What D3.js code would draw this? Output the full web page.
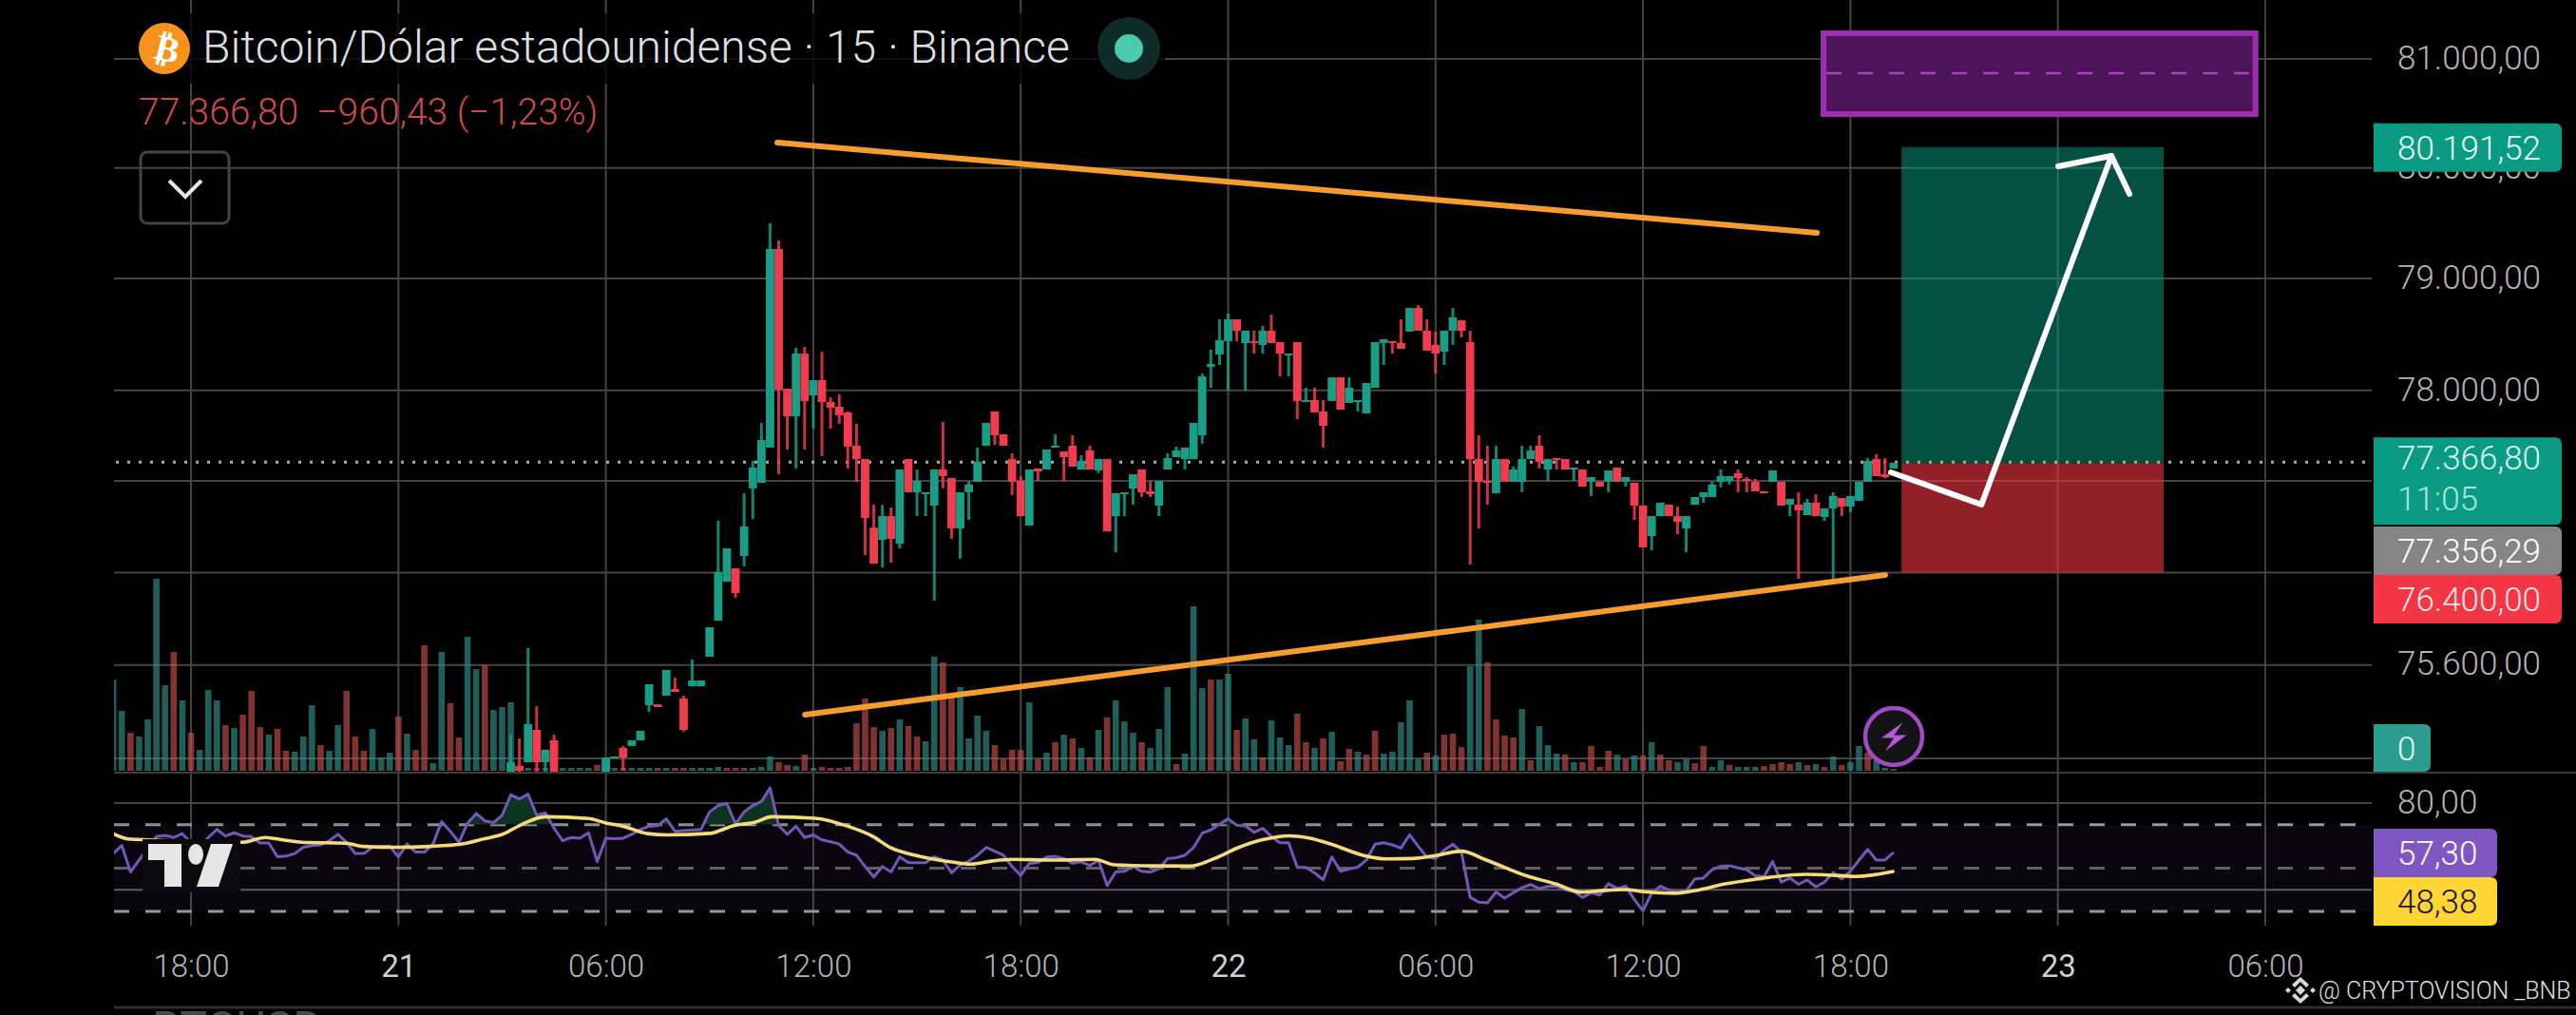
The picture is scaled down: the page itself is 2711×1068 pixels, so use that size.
<!DOCTYPE html>
<html>
<head>
<meta charset="utf-8">
<title>BTC/USD 15</title>
<script src="https://cdn.jsdelivr.net/npm/d3@7"></script>
<style>
html, body { margin: 0; padding: 0; background: #000; overflow: hidden; }
svg { display: block; }
text { font-family: Roboto, "Liberation Sans", sans-serif; }
</style>
</head>
<body>
<div id="canvas"></div>
<script>
// candles: 15 minute bars, first one at 03:15 on the 21st, hour 0 = 00:00 on the 20th
var candleStartHour = 27.25;
var barHours = 0.25;

var opens = [
  74687,74736,74768,75043,74768,74954,null,null,null,null,null,
  74687,74800,74889,74906,74954,75254,75262,75336,75393,75311,
  75417,75417,75671,75982,76320,76436,76544,77134,77184,77494,
  79266,78015,77771,78328,77956,78091,77897,77855,77805,77511,
  77393,76792,76685,76892,76651,77393,77101,77084,76984,77301,
  77226,76784,77101,77193,77511,77813,77611,77393,77201,76809,
  77310,77301,77502,77460,77511,77301,77469,77293,77393,76892,
  77093,77134,77301,77109,76984,77301,77410,77393,77393,77603,
  78210,78320,78439,78634,78422,78439,78405,78532,78430,78320,
  78430,77897,77914,77813,77906,78116,77889,77897,77796,78024,
  78422,78439,78422,78524,78736,78532,78405,78345,78532,78626,
  78430,77393,77201,77093,77393,77193,77193,77393,77511,77301,
  77402,77393,77301,77301,77193,77193,77193,77318,77193,77184,
  76984,76718,76892,76992,76892,76784,76992,77059,77059,77193,
  77201,77268,77218,77193,77109,77193,77193,76992,76992,76901,
  77009,76884,76959,77051,76976,77026,77193,77393,77259,77310
];
var highs = [
  75003,74970,75745,75246,74873,75003,null,null,null,null,null,
  74808,74816,74906,74954,75035,75434,75262,75556,75491,75336,
  75646,75466,75925,76851,76610,76436,77093,77377,77712,79498,
  79343,78015,78379,78388,78091,78345,77939,77965,77813,77704,
  77393,76992,76992,76967,77301,77393,77301,77101,77301,77721,
  77226,77101,77193,77494,77712,77813,77611,77444,77243,77301,
  77310,77477,77611,77460,77603,77427,77511,77393,77393,77093,
  77101,77259,77301,77201,77201,77444,77502,77494,77712,78150,
  78362,78634,78685,78634,78532,78532,78575,78677,78430,78328,
  78430,78024,78024,77914,78116,78116,78116,77914,78066,78430,
  78456,78439,78634,78736,78762,78634,78524,78532,78736,78626,
  78532,77603,77511,77511,77393,77326,77511,77511,77603,77393,
  77402,77393,77318,77301,77234,77193,77293,77318,77234,77184,
  76984,76892,77009,76992,76976,76892,77059,77101,77193,77301,
  77243,77301,77234,77218,77109,77293,77193,77043,77101,77043,
  77084,76959,77101,77051,77068,77193,77402,77435,77402,77360
];
var lows = [
  74687,74687,74768,74687,74687,74687,null,null,null,null,null,
  74687,74800,74695,74906,74954,75197,75238,75336,75368,75027,
  75417,75417,75671,75982,76320,76180,76452,76867,77184,77494,
  77259,77477,77310,77477,77662,77419,77662,77704,77310,77193,
  76552,76477,76444,76485,76610,77101,76892,76892,76155,77134,
  76693,76519,76859,77193,77511,77519,77511,77076,76892,76809,
  77201,77301,77502,77201,77326,77301,77301,77268,76759,76577,
  76892,76992,77059,77059,76892,77301,77410,77301,77393,77528,
  78024,78227,77998,78439,77998,78328,78328,78422,78125,78125,
  77746,77897,77805,77494,77906,77830,77889,77813,77796,78024,
  78227,78328,78371,78524,78532,78354,78150,78227,78405,78473,
  76469,76784,76992,77093,77193,77193,77101,77393,77310,77201,
  77301,77301,77201,77151,77068,77151,77101,77193,77151,76859,
  76618,76593,76892,76892,76734,76577,76992,77009,77059,77143,
  77168,77101,77101,77109,77101,77193,76984,76892,76345,76901,
  76892,76851,76345,76892,76926,77026,77193,77243,77226,77310
];
var closes = [
  74768,74695,75092,74768,74873,74687,null,null,null,null,null,
  74808,74816,74808,74954,75035,75434,75238,75556,75368,75043,
  75466,75466,75925,76403,76610,76221,76801,77318,77561,79266,
  78007,77771,78328,77906,78091,77897,77847,77779,77502,77393,
  76876,76477,76892,76693,77301,77101,77201,77101,77301,77243,
  76784,77101,77168,77368,77712,77603,77511,77193,76892,77301,
  77285,77477,77511,77410,77326,77377,77301,77393,76759,77093,
  77101,77259,77101,77084,77201,77402,77469,77494,77712,78125,
  78235,78447,78634,78532,78532,78422,78532,78422,78328,78328,
  77906,77914,77805,77687,78116,77830,78024,77914,78066,78430,
  78456,78422,78371,78736,78532,78354,78328,78532,78651,78532,
  77393,77193,77184,77393,77193,77301,77393,77469,77368,77393,
  77393,77301,77318,77151,77234,77151,77293,77193,77234,76984,
  76618,76892,77009,76892,76842,76892,77059,77101,77168,77243,
  77243,77226,77201,77109,77101,77293,76984,77043,76942,77009,
  76892,76959,77068,76976,77068,77193,77377,77243,77234,77360
];

// volume and RSI share one bar clock, starting further left than the visible candles
var seriesStartHour = 15.75;

var volumes = [
  96,63,40,36,54,202,90,125,74,40,22,85,74,48,45,59,84,46,38,44,21,20,36,69,27,21,48,84,36,21,44,14,19,57,39,22,132,8,125,71,35,141,107,111,64,67,72,
  3,3,3,3,3,3,3,3,3,6,3,3,3,3,3,3,3,3,3,3,3,3,3,4,3,3,3,3,4,15,9,6,5,17,3,4,3,3,4,50,
  76,46,42,45,54,47,36,31,120,114,81,88,34,58,42,27,12,22,22,72,12,19,30,38,34,24,14,43,56,74,52,40,30,24,44,88,7,18,173,87,96,96,102,43,55,33,14,53,35,27,60,30,24,34,41,10,23,20,17,42,18,20,51,74,12,19,16,38,39,25,110,159,114,54,37,35,65,11,47,27,18,17,9,9,26,4,21,
  17,12,16,16,30,17,11,9,12,8,26,4,11,6,4,4,4,5,7,9,7,9,6,7,4,15,6,9,26,19,11,3,2
];
var volumeDirs = (
  "ggrggggrgrgggrgrrrgrrgggrggrrrgggrgrrggrrggrggg" +
  "rgrgrggggrggrgggrgrrggggrrrgggrrgrgrrrrr" +
  "rrgrgrrggrrggggrrrrgrgrgrgrgrgggrgggrgggrggrggrgggrrgrgrrgrrgggggrgrrrggrrrrgrgggrgrrrrgrg" +
  "rgrrggrrggrgggrrrrgrgrgrggrgggrrg"
).split("");

var rsiValues = [
  56.7,60.4,48.2,53.7,58.9,64.5,65.1,64.1,65.9,61.6,60.4,64.1,67.8,64.8,66.3,64.8,64.5,61.6,61.6,55.2,
  55.5,56.7,59.6,60.4,60.7,62.6,65.6,61.9,56.7,56.7,59.6,59.9,60.1,55.2,61.1,57.4,57.4,61.1,71.5,67.0,
  61.9,70.7,75.2,71.8,71.0,74.4,83.8,81.9,84.1,74.4,75.5,68.5,62.6,64.1,63.8,66.3,53.0,63.8,63.6,63.8,
  65.6,67.8,69.3,69.6,72.7,67.0,67.3,67.5,67.8,75.9,78.9,79.9,70.4,75.9,78.9,80.7,87.0,69.6,65.6,69.3,
  64.1,65.3,63.0,62.1,61.1,57.4,55.9,50.7,45.9,50.7,48.2,55.2,52.5,52.5,52.5,55.2,53.7,47.8,51.5,53.2,
  55.9,59.5,57.8,55.9,50.7,46.6,52.2,52.6,55.1,55.4,54.4,52.2,52.9,51.2,53.7,41.9,48.2,48.5,50.7,48.5,
  48.1,49.7,54.4,54.8,55.9,59.5,66.1,67.6,70.2,72.7,69.8,69.5,66.5,68.3,64.6,61.7,61.7,50.3,50.3,47.8,
  44.6,55.1,48.5,49.6,50.4,53.7,61.0,61.7,60.7,59.2,65.4,60.0,55.1,54.4,58.3,61.0,57.3,36.5,34.3,33.9,
  39.0,36.1,38.7,40.9,42.4,40.5,41.5,41.7,40.0,39.3,36.4,38.6,37.6,42.8,40.6,41.7,35.5,30.3,38.4,41.7,
  39.8,38.8,39.4,45.0,45.4,49.3,50.8,51.1,50.1,49.3,46.4,46.0,53.0,43.5,45.4,42.5,44.5,41.3,43.5,47.9,
  45.0,48.6,53.7,58.6,53.7,53.7,57.3
];

var maHours = [
  15.74,16.24,19.48,20.15,20.7,21.2,22.47,23,23.9,24.9,25.8,26.5,27,27.55,28.25,29.5,30,30.5,31.2,31.75,
  33,33.7,34.3,34.8,36.05,37,37.7,38.25,38.95,39.96,40.56,41.15,41.75,42.93,44.14,44.72,45.93,46.9,47.6,48.3,
  49.03,49.75,50.33,51.04,51.9,52.6,53.32,54.04,54.75,55.47,56.65,57.47,58.2,58.74,59.48,60.03,60.93,61.48,62.42,63.33,
  63.8,64.7,65.6,66.16,67.23
];
var maValues = [
  65.9,63.3,61.9,64.1,62.9,61.9,61.5,60.0,59.6,60.0,61.0,63.6,65.5,70.0,73.7,72.9,70.8,69.3,65.9,65.3,
  66.0,69.6,71.1,73.7,73.0,69.3,64.8,59.3,55.9,52.9,51.8,53.2,54.0,53.7,54.0,51.5,51.0,50.9,54.4,59.5,
  63.2,64.9,63.9,60.7,55.9,54.2,54.4,55.9,57.8,53.7,46.3,42.7,38.9,39.5,40.1,39.1,38.4,39.5,42.8,45.0,
  46.0,47.1,46.6,46.1,48.38
];

var priceGridValues = [81000, 80000, 79000, 78000, 77200, 76400, 75600, 74800];
var priceTickValues = [81000, 80000, 79000, 78000, 75600];
var rsiGridValues = [80, 40];
var rsiBandValues = [70, 50, 30];

var timeTickHours = [18, 24, 30, 36, 42, 48, 54, 60, 66, 72, 78];
var timeTickLabels = ["18:00", "21", "06:00", "12:00", "18:00", "22", "06:00", "12:00", "18:00", "23", "06:00"];

// drawings on the chart
var lastPrice = 77366.80;
var averagePrice = 77356.29;
var targetPrice = 80191.52;
var stopPrice = 76400;
var upperTrendHours = [34.96, 65.03], upperTrendPrices = [80232, 79412];
var lowerTrendHours = [35.76, 67.01], lowerTrendPrices = [75174, 76379];
var positionHours = [67.48, 75.06];
var zoneHours = [65.14, 77.8], zonePrices = [81263, 80467], zoneMidPrice = 80868;
var arrowHours = [67.17, 69.79, 73.55], arrowPrices = [77276, 76993, 80111];
var arrowHeadHours = [72.01, 73.55, 74.07], arrowHeadPrices = [80016, 80111, 79765];

var canvasWidth = 2711, canvasHeight = 1068;
var leftEdge = 120, paneRight = 2496, scaleTextX = 2523;
var greenColor = "#189d87", redColor = "#f03c4e";
var gridColor = "#444444", textColor = "#b4b4b4";

var x = d3.scaleLinear().domain([18, 78]).range([201, 2384]);
var yPrice = d3.scaleLog().domain([81000, 74800]).range([62, 798]);
var yVolume = d3.scaleLinear().domain([0, 200]).range([811, 611]);
var yRsi = d3.scaleLinear().domain([30, 80]).range([959, 845]);

var priceFormat = d3.formatLocale({ decimal: ",", thousands: ".", grouping: [3], currency: ["", ""] }).format(",.2f");
var rsiFormat = d3.formatLocale({ decimal: ",", thousands: ".", grouping: [3], currency: ["", ""] }).format(".2f");

var svg = d3.select("#canvas").append("svg")
            .attr("width", canvasWidth)
            .attr("height", canvasHeight)
            .attr("viewBox", "0 0 " + canvasWidth + " " + canvasHeight);

var defs = svg.append("defs");
defs.append("clipPath").attr("id", "mainClip").append("rect")
    .attr("x", leftEdge).attr("y", 0).attr("width", paneRight - leftEdge).attr("height", 812);
defs.append("clipPath").attr("id", "overbought").append("rect")
    .attr("x", leftEdge).attr("y", 814).attr("width", paneRight - leftEdge).attr("height", yRsi(70) - 814);
var fade = defs.append("linearGradient").attr("id", "overboughtFill").attr("x1", 0).attr("x2", 0).attr("y1", 0).attr("y2", 1);
fade.append("stop").attr("offset", "0%").attr("stop-color", "#0f3a24");
fade.append("stop").attr("offset", "100%").attr("stop-color", "#081a12");

function lineFrom(xs, ys, xScale, yScale)
{
    return d3.line().x(function(d) { return xScale(d); })
                    .y(function(d, i) { return yScale(ys[i]); })(xs);
}

function seriesHour(i)
{
    return seriesStartHour + i * barHours;
}

//grid
function drawGrid()
{
    var grid = svg.append("g").attr("class", "grid");

    grid.selectAll(".vGrid").data(timeTickHours).enter().append("line")
        .attr("class", "vGrid")
        .attr("x1", function(d) { return x(d); })
        .attr("x2", function(d) { return x(d); })
        .attr("y1", 0).attr("y2", 974)
        .attr("stroke", gridColor).attr("stroke-width", 2);

    grid.selectAll(".hGrid").data(priceGridValues).enter().append("line")
        .attr("class", "hGrid")
        .attr("x1", leftEdge).attr("x2", paneRight)
        .attr("y1", function(d) { return yPrice(d); })
        .attr("y2", function(d) { return yPrice(d); })
        .attr("stroke", gridColor).attr("stroke-width", 2);

    // legend backdrop dims the grid behind the title
    grid.append("rect").attr("x", 146).attr("y", 14).attr("width", 1080).attr("height", 74)
        .attr("fill", "#000").attr("opacity", 0.78);

    grid.append("line").attr("x1", leftEdge).attr("x2", canvasWidth).attr("y1", 813).attr("y2", 813)
        .attr("stroke", "#3a3a3a").attr("stroke-width", 2);
    grid.append("line").attr("x1", leftEdge).attr("x2", canvasWidth).attr("y1", 1060).attr("y2", 1060)
        .attr("stroke", "#2e2e2e").attr("stroke-width", 3);
}

function drawVolume()
{
    svg.append("g").selectAll("rect").data(volumes).enter().append("rect")
        .attr("clip-path", "url(#mainClip)")
        .attr("x", function(d, i) { return x(seriesHour(i)) - 3.3; })
        .attr("width", 6.6)
        .attr("y", function(d) { return yVolume(d); })
        .attr("height", function(d) { return yVolume(0) - yVolume(d); })
        .attr("fill", function(d, i) { return volumeDirs[i] == "g" ? "#2f8f87" : "#c24e4a"; })
        .attr("opacity", 0.66);
}

function drawPositionBoxes()
{
    var g = svg.append("g");
    var boxX = x(positionHours[0]), boxW = x(positionHours[1]) - boxX;

    g.append("rect").attr("x", boxX).attr("width", boxW)
        .attr("y", yPrice(targetPrice)).attr("height", yPrice(averagePrice) - yPrice(targetPrice))
        .attr("fill", "#089981").attr("opacity", 0.52);
    g.append("rect").attr("x", boxX).attr("width", boxW)
        .attr("y", yPrice(averagePrice)).attr("height", yPrice(stopPrice) - yPrice(averagePrice))
        .attr("fill", "#f23645").attr("opacity", 0.6);

    // target zone
    var zoneX = x(zoneHours[0]), zoneW = x(zoneHours[1]) - zoneX;
    var zoneY = yPrice(zonePrices[0]), zoneH = yPrice(zonePrices[1]) - zoneY;
    g.append("rect").attr("x", zoneX + 3).attr("y", zoneY + 3).attr("width", zoneW - 6).attr("height", zoneH - 6)
        .attr("fill", "#4c1459").attr("stroke", "#9b2fae").attr("stroke-width", 6);
    g.append("line").attr("x1", zoneX + 6).attr("x2", zoneX + zoneW - 6)
        .attr("y1", yPrice(zoneMidPrice)).attr("y2", yPrice(zoneMidPrice))
        .attr("stroke", "#a942bd").attr("stroke-width", 2.5).attr("stroke-dasharray", "16 17");
}

function drawLastPriceLine()
{
    svg.append("line").attr("x1", leftEdge + 2).attr("x2", 2490)
        .attr("y1", yPrice(lastPrice)).attr("y2", yPrice(lastPrice))
        .attr("stroke", "#9fb2ac").attr("stroke-width", 3).attr("stroke-dasharray", "3 9");
}

function drawCandles()
{
    var bars = d3.range(opens.length).filter(function(i) { return opens[i] != null; });
    var g = svg.append("g").attr("clip-path", "url(#mainClip)");
    var barX = function(i) { return x(candleStartHour + i * barHours); };
    var barColor = function(i) { return closes[i] >= opens[i] ? greenColor : redColor; };

    g.selectAll(".wick").data(bars).enter().append("line")
        .attr("class", "wick")
        .attr("x1", barX).attr("x2", barX)
        .attr("y1", function(i) { return yPrice(highs[i]); })
        .attr("y2", function(i) { return yPrice(lows[i]); })
        .attr("stroke", barColor).attr("stroke-width", 3).attr("opacity", 0.85);

    g.selectAll(".body").data(bars).enter().append("rect")
        .attr("class", "body")
        .attr("x", function(i) { return barX(i) - 4.4; })
        .attr("width", 8.8)
        .attr("y", function(i) { return yPrice(Math.max(opens[i], closes[i])); })
        .attr("height", function(i) { return Math.max(2, Math.abs(yPrice(opens[i]) - yPrice(closes[i]))); })
        .attr("fill", barColor);
}

function drawRsi()
{
    var g = svg.append("g");

    g.insert("rect").attr("x", leftEdge).attr("width", paneRight - leftEdge)
        .attr("y", yRsi(70)).attr("height", yRsi(30) - yRsi(70))
        .attr("fill", "#7e57c2").attr("opacity", 0.075);

    g.selectAll(".rsiGrid").data(rsiGridValues).enter().append("line")
        .attr("class", "rsiGrid")
        .attr("x1", leftEdge).attr("x2", paneRight)
        .attr("y1", function(d) { return yRsi(d); })
        .attr("y2", function(d) { return yRsi(d); })
        .attr("stroke", function(d) { return d == 40 ? "#5c5a62" : gridColor; })
        .attr("stroke-width", 2);

    g.selectAll(".rsiBand").data(rsiBandValues).enter().append("line")
        .attr("class", "rsiBand")
        .attr("x1", leftEdge).attr("x2", 2480)
        .attr("y1", function(d) { return yRsi(d); })
        .attr("y2", function(d) { return yRsi(d); })
        .attr("stroke", function(d) { return d == 50 ? "#5f5f64" : "#98989c"; })
        .attr("stroke-width", 3)
        .attr("stroke-dasharray", "16 17");

    var rsiHours = rsiValues.map(function(d, i) { return seriesHour(i); });

    g.append("path")
        .attr("clip-path", "url(#overbought)")
        .attr("d", d3.area().x(function(d) { return x(d); })
                            .y0(yRsi(70))
                            .y1(function(d, i) { return yRsi(rsiValues[i]); })(rsiHours))
        .attr("fill", "url(#overboughtFill)");

    var rsiLine = g.append("g").attr("clip-path", "url(#mainClipRsi)");
    defs.append("clipPath").attr("id", "mainClipRsi").append("rect")
        .attr("x", leftEdge).attr("y", 814).attr("width", paneRight - leftEdge).attr("height", 180);

    rsiLine.append("path")
        .attr("d", lineFrom(rsiHours, rsiValues, x, yRsi))
        .attr("fill", "none").attr("stroke", "#7557b8").attr("stroke-width", 3).attr("stroke-linejoin", "round");

    rsiLine.append("path")
        .attr("d", d3.line().curve(d3.curveMonotoneX)
                     .x(function(d) { return x(d); })
                     .y(function(d, i) { return yRsi(maValues[i]); })(maHours))
        .attr("fill", "none").attr("stroke", "#f6db7c").attr("stroke-width", 3.6).attr("stroke-linecap", "round");
}

function drawDrawings()
{
    var g = svg.append("g");

    [[upperTrendHours, upperTrendPrices], [lowerTrendHours, lowerTrendPrices]].forEach(function(t) {
        g.append("path").attr("d", lineFrom(t[0], t[1], x, yPrice))
            .attr("fill", "none").attr("stroke", "#f59d2f").attr("stroke-width", 6).attr("stroke-linecap", "round");
    });

    g.append("path").attr("d", lineFrom(arrowHours, arrowPrices, x, yPrice))
        .attr("fill", "none").attr("stroke", "#ffffff").attr("stroke-width", 6)
        .attr("stroke-linecap", "round").attr("stroke-linejoin", "round");
    g.append("path").attr("d", lineFrom(arrowHeadHours, arrowHeadPrices, x, yPrice))
        .attr("fill", "none").attr("stroke", "#ffffff").attr("stroke-width", 6)
        .attr("stroke-linecap", "round").attr("stroke-linejoin", "round");
}

function drawAxes()
{
    var priceAxis = d3.axisRight(yPrice)
        .tickValues(priceTickValues)
        .tickSize(0).tickPadding(0)
        .tickFormat(priceFormat);
    var pa = svg.append("g").attr("transform", "translate(" + scaleTextX + ",-1)").call(priceAxis);
    pa.select(".domain").remove();
    pa.selectAll("text").attr("font-size", 35).attr("font-weight", 300).attr("fill", textColor)
        .attr("style", "font-family:Roboto");

    var timeAxis = d3.axisBottom(x)
        .tickValues(timeTickHours)
        .tickSize(0).tickPadding(0)
        .tickFormat(function(d, i) { return timeTickLabels[i]; });
    var ta = svg.append("g").attr("transform", "translate(0,1005)").call(timeAxis);
    ta.select(".domain").remove();
    ta.selectAll("text").attr("font-size", 33).attr("font-weight", function(d, i) {
            return timeTickLabels[i].length == 2 ? 400 : 300;
        })
        .attr("fill", function(d, i) { return timeTickLabels[i].length == 2 ? "#cfcfcf" : textColor; })
        .attr("style", "font-family:Roboto");

    var rsiAxis = d3.axisRight(yRsi)
        .tickValues([80])
        .tickSize(0).tickPadding(0)
        .tickFormat(rsiFormat);
    var ra = svg.append("g").attr("transform", "translate(" + scaleTextX + ",-1)").call(rsiAxis);
    ra.select(".domain").remove();
    ra.selectAll("text").attr("font-size", 35).attr("font-weight", 300).attr("fill", textColor)
        .attr("style", "font-family:Roboto");
}

// price tag with square left side and rounded right side
function drawTag(top, height, width, color, label, textFill, subLabel)
{
    var left = 2498, r = 7;
    var g = svg.append("g");
    g.append("path")
        .attr("d", "M" + left + "," + top + "H" + (left + width - r) + "q" + r + ",0 " + r + "," + r +
                   "V" + (top + height - r) + "q0," + r + " " + (-r) + "," + r + "H" + left + "Z")
        .attr("fill", color);
    g.append("text").attr("x", scaleTextX).attr("y", top + (subLabel ? 34 : height / 2 + 12.5))
        .attr("font-size", 35).attr("font-weight", 300).attr("fill", textFill).text(label);
    if(subLabel != undefined)
        g.append("text").attr("x", scaleTextX).attr("y", top + 77)
            .attr("font-size", 35).attr("font-weight", 300).attr("fill", "#a8e8da").text(subLabel);
}

function drawTags()
{
    drawTag(yPrice(targetPrice) - 25, 51, 198, "#0b9a82", priceFormat(targetPrice), "#e8fbf6");
    drawTag(yPrice(lastPrice) - 26, 92, 198, "#0b9a82", priceFormat(lastPrice), "#d6f7ef", "11:05");
    drawTag(554, 51, 198, "#858585", priceFormat(averagePrice), "#ffffff");
    drawTag(605, 51, 198, "#f23645", priceFormat(stopPrice), "#ffe6e8");
    drawTag(762, 50, 60, "#2a9d8f", "0", "#e8fbf6");
    drawTag(872, 51, 130, "#7e57c2", rsiFormat(rsiValues[rsiValues.length - 1]), "#ffffff");
    drawTag(923, 51, 130, "#fdd535", rsiFormat(maValues[maValues.length - 1]), "#1a1a1a");
}

function drawLegend()
{
    var g = svg.append("g");

    g.append("circle").attr("cx", 173).attr("cy", 51).attr("r", 27).attr("fill", "#f7931a");
    g.append("text").attr("transform", "translate(173,64) rotate(14)")
        .attr("text-anchor", "middle").attr("font-size", 38).attr("font-weight", 700)
        .attr("fill", "#ffffff").attr("style", "font-family:'DejaVu Sans'").text("\u20BF");

    g.append("text").attr("x", 213).attr("y", 66)
        .attr("font-size", 48).attr("font-weight", 300).attr("fill", "#dcdee3")
        .text("Bitcoin/D\u00f3lar estadounidense \u00b7 15 \u00b7 Binance");

    g.append("circle").attr("cx", 1188).attr("cy", 51).attr("r", 33).attr("fill", "#0f2b28");
    g.append("circle").attr("cx", 1188).attr("cy", 51).attr("r", 15).attr("fill", "#4cc9ae");

    g.append("text").attr("x", 146).attr("y", 131)
        .attr("font-size", 39).attr("font-weight", 300).attr("fill", "#cf4a50")
        .attr("xml:space", "preserve")
        .text("77.366,80  \u2212960,43 (\u22121,23%)");

    g.append("rect").attr("x", 148).attr("y", 160).attr("width", 93).attr("height", 75).attr("rx", 7)
        .attr("fill", "none").attr("stroke", "#444444").attr("stroke-width", 3);
    g.append("path").attr("d", "M178,190L195,207L212,190")
        .attr("fill", "none").attr("stroke", "#e6e6e6").attr("stroke-width", 4);
}

function drawBadge()
{
    var g = svg.append("g").attr("transform", "translate(1993,775)");
    g.append("circle").attr("r", 30).attr("fill", "#141414").attr("stroke", "#a14bc4").attr("stroke-width", 4.5);
    g.append("path").attr("d", "M9.5,-15L-13,1.5L0,1.5L-9,15.5L13.5,-1.5L0.5,-1.5Z").attr("fill", "#b458d8");
}

function drawLogo()
{
    var g = svg.append("g");
    g.append("rect").attr("x", 150).attr("y", 883).attr("width", 103).attr("height", 56).attr("fill", "#0b0b0e");
    g.append("path").attr("d", "M156,888H191V933H173V905H156Z").attr("fill", "#e6e6e6");
    g.append("ellipse").attr("cx", 206).attr("cy", 899).attr("rx", 8).attr("ry", 11).attr("fill", "#e6e6e6");
    g.append("path").attr("d", "M222,888H245L230,933H207Z").attr("fill", "#e6e6e6");
}

function drawFooter()
{
    svg.append("text").attr("x", 160).attr("y", 1098)
        .attr("font-size", 48).attr("fill", "#4a4a4a").text("BTCUSD");

    var g = svg.append("g").attr("transform", "translate(2421,1042)").attr("fill", "#d8d8d8");
    g.append("path").attr("d", "M0,-5L5,0L0,5L-5,0Z");
    g.append("path").attr("d", "M-13,-3L-10,0L-13,3L-16,0Z");
    g.append("path").attr("d", "M13,-3L16,0L13,3L10,0Z");
    g.append("path").attr("d", "M0,-14L9,-6L6,-3L0,-9L-6,-3L-9,-6Z");
    g.append("path").attr("d", "M0,14L9,6L6,3L0,9L-6,3L-9,6Z");

    svg.append("text").attr("x", 2440).attr("y", 1051)
        .attr("font-size", 25).attr("font-weight", 300).attr("fill", "#e0e0e0")
        .text("@ CRYPTOVISION _BNB");
}

drawGrid();
drawVolume();
drawPositionBoxes();
drawLastPriceLine();
drawCandles();
drawRsi();
drawDrawings();
drawAxes();
drawTags();
drawLegend();
drawBadge();
drawLogo();
drawFooter();
</script>
</body>
</html>
